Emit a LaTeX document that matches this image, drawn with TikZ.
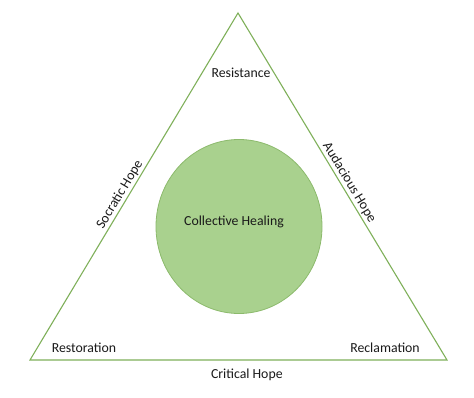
\documentclass[tikz,border=0pt]{standalone}
\usepackage{fontspec}
\setmainfont{Carlito}
\usetikzlibrary{positioning,shapes.geometric}
\definecolor{hopeline}{HTML}{7FB05A}
\definecolor{hopefill}{HTML}{A9D18E}
\definecolor{hopering}{HTML}{8CBA6C}
\definecolor{hopeink}{HTML}{1A1A1A}
\tikzset{
  hopeedge/.style={draw=hopeline,line width=1.1pt},
  hopelabel/.style={font=\fontsize{13.8}{16}\selectfont,text=hopeink,inner sep=1.5pt},
  hopecore/.style={ellipse,draw=hopering,fill=hopefill,line width=0.8pt,
    minimum width=166pt,minimum height=174pt,inner sep=0pt},
}
\begin{document}
\begin{tikzpicture}[x=1pt,y=-1pt]
  \path[use as bounding box,fill=white] (0,0) rectangle (474,398);
  \coordinate (apex) at (238,13);
  \coordinate (left) at (30,360);
  \coordinate (right) at (447,360);
  \draw[hopeedge,line join=miter]
    (left) -- node[hopelabel,sloped,above,pos=0.465] (socratic) {Socratic Hope}
    (apex) -- node[hopelabel,sloped,above,pos=0.50] (audacious) {Audacious Hope}
    (right) -- node[hopelabel,below=7pt,pos=0.48] (critical) {Critical Hope}
    cycle;
  \node[hopecore] (healing) at (239,226.5) {};
  \node[hopelabel] (healname) at (234,222) {Collective Healing};
  \node[hopelabel] (resistance) at (241,73) {Resistance};
  \node[hopelabel] (restoration) at (84,348) {Restoration};
  \node[hopelabel] (reclamation) at (385,348) {Reclamation};
\end{tikzpicture}
\end{document}
